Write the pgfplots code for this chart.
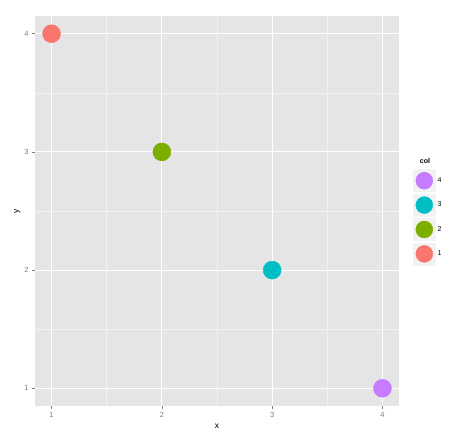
\documentclass[border=0pt]{standalone}
\usepackage{fontspec}
\setmainfont{Liberation Sans}
\usepackage{pgfplots}
\pgfplotsset{compat=1.18}
\definecolor{panel}{HTML}{E5E5E5}
\definecolor{minorg}{HTML}{F2F2F2}
\definecolor{keybg}{HTML}{F2F2F2}
\definecolor{c1}{HTML}{F8766D}
\definecolor{c2}{HTML}{7CAE00}
\definecolor{c3}{HTML}{00BFC4}
\definecolor{c4}{HTML}{C77CFF}
\definecolor{tickgrey}{HTML}{7F7F7F}
\begin{document}
\begin{tikzpicture}[x=1pt,y=1pt]
\begin{axis}[
  at={(35pt,38pt)}, anchor=south west,
  scale only axis, width=364pt, height=390pt,
  xmin=0.85, xmax=4.15, ymin=0.85, ymax=4.15,
  axis background/.style={fill=panel},
  axis line style={draw=none},
  xtick={1,2,3,4}, ytick={1,2,3,4},
  minor xtick={1.5,2.5,3.5}, minor ytick={1.5,2.5,3.5},
  grid=both,
  major grid style={white, line width=1.1pt},
  minor grid style={minorg, line width=0.5pt},
  tick align=outside, tick pos=left,
  major tick length=3pt, minor tick length=0pt,
  tick style={tickgrey, line width=0.5pt},
  /pgf/number format/assume math mode=true,
  ticklabel style={font=\fontsize{7.5}{8}\selectfont, text=tickgrey},
  xlabel={x}, ylabel={y},
  label style={font=\fontsize{8.5}{9}\selectfont},
  xlabel style={yshift=1pt},
  ylabel style={yshift=-3pt},
  legend style={at={(1.03,0.5)}, anchor=west, draw=none, fill=none,
    font=\fontsize{7}{8}\selectfont, row sep=2pt,
    /tikz/every even column/.append style={column sep=1pt}},
  legend cell align=left,
  reverse legend,
  legend image code/.code={
    \fill[keybg] (0pt,-11pt) rectangle (22pt,11pt);
    \fill (11pt,0pt) circle (8.5pt);
  },
]
\addplot[only marks, mark=*, mark size=9pt, color=c1] coordinates {(1,4)};
\addlegendentry{1}
\addplot[only marks, mark=*, mark size=9pt, color=c2] coordinates {(2,3)};
\addlegendentry{2}
\addplot[only marks, mark=*, mark size=9pt, color=c3] coordinates {(3,2)};
\addlegendentry{3}
\addplot[only marks, mark=*, mark size=9pt, color=c4] coordinates {(4,1)};
\addlegendentry{4}
\addlegendimage{empty legend}
\addlegendentry{\hspace{-22pt}\textbf{col}}
\end{axis}
\pgfresetboundingbox
\path (0,0) rectangle (474,444);
\end{tikzpicture}
\end{document}
